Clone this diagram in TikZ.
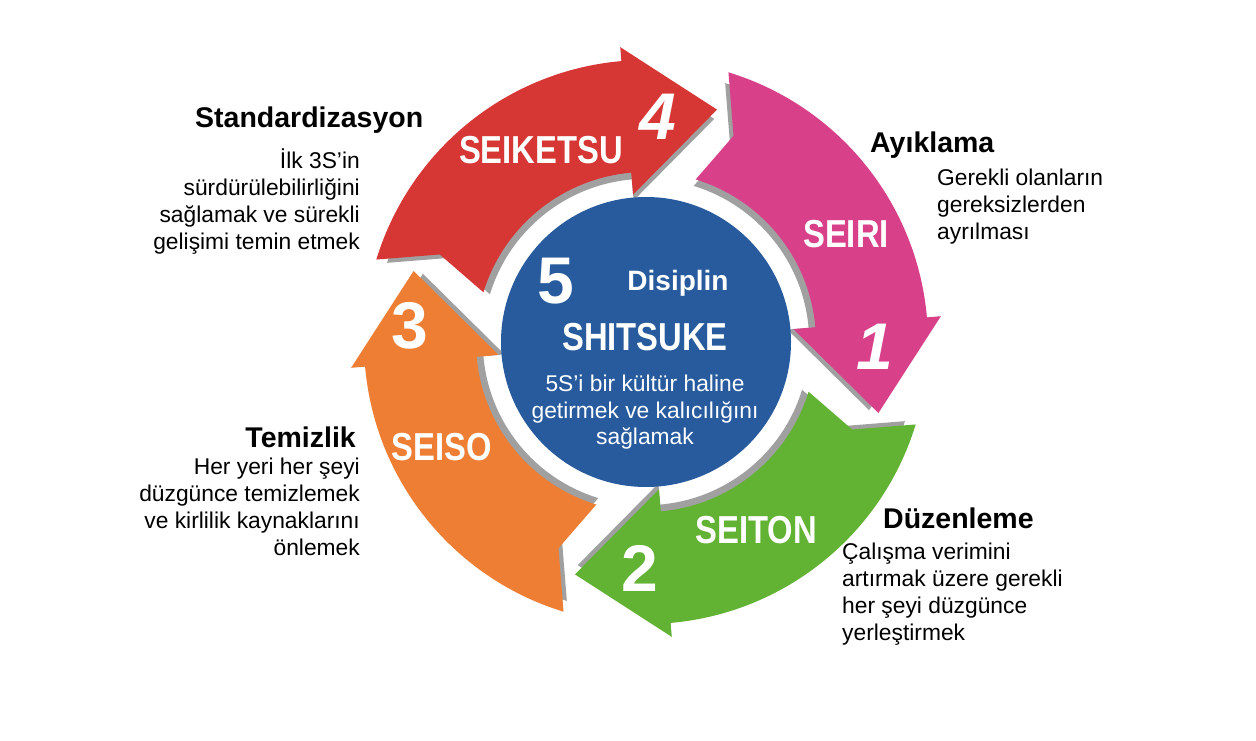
\documentclass[tikz,border=0pt]{standalone}
\usepackage{fontspec}
\setmainfont{Liberation Sans}
\newfontfamily\condf[FakeStretch=0.84]{Liberation Sans}
\usetikzlibrary{calc}
\definecolor{redA}{RGB}{214,54,52}
\definecolor{pinkA}{RGB}{216,64,138}
\definecolor{greenA}{RGB}{98,178,51}
\definecolor{orangeA}{RGB}{238,126,52}
\definecolor{blueA}{RGB}{39,91,158}
\definecolor{bevel}{RGB}{160,160,160}
\tikzset{
  heading/.style={font=\bfseries\fontsize{28.5}{32}\selectfont, inner sep=0pt},
  body/.style={font=\fontsize{22.8}{27}\selectfont, inner sep=0pt},
  slabel/.style={font=\condf\bfseries\fontsize{39}{39}\selectfont, text=white, inner sep=0pt},
  numit/.style={font=\bfseries\itshape\fontsize{66}{66}\selectfont, text=white, inner sep=0pt},
  numup/.style={font=\bfseries\fontsize{66}{66}\selectfont, text=white, inner sep=0pt},
  hubtext/.style={font=\fontsize{22.8}{26.5}\selectfont, text=white, align=center, inner sep=0pt},
}
% #1 tail angle, #2 colour, #3 radius factor
\newcommand\ringarrow[3]{%
  \fill[#2] ($(C)+(#1:{#3*282})$)
    arc[start angle=#1, end angle=#1-68, radius={#3*282}]
    -- ($(C)+(#1-68:{#3*296})$)
    -- ($(C)+(#1-90:{#3*243})$)
    -- ($(C)+(#1-68:{#3*148})$)
    -- ($(C)+(#1-68:{#3*170})$)
    arc[start angle=#1-68, end angle=#1, radius={#3*170}]
    -- ($(C)+(#1-6:{#3*224})$) -- cycle;}
\begin{document}
\begin{tikzpicture}[x=1pt,y=1pt]
\useasboundingbox (0,0) rectangle (1256,740);
\fill[white] (0,0) rectangle (1256,740);
\coordinate (C) at (646,398);
% bevel shadows
\ringarrow{163}{bevel}{0.96}
\ringarrow{73}{bevel}{0.96}
\ringarrow{-17}{bevel}{0.96}
\ringarrow{-107}{bevel}{0.96}
% arrows
\ringarrow{163}{redA}{1}
\ringarrow{73}{pinkA}{1}
\ringarrow{-17}{greenA}{1}
\ringarrow{-107}{orangeA}{1}
% hub
\node[circle, fill=blueA, minimum size=290pt, inner sep=0pt] (hub) at (C) {};
% arrow labels
\node[slabel] (seiketsu) at (541,590) {SEIKETSU};
\node[numit] (n4) at (658,623) {4};
\node[slabel] (seiri) at (846,506) {SEIRI};
\node[numit] (n1) at (875,393) {1};
\node[slabel] (seiton) at (756,210) {SEITON};
\node[numup] (n2) at (640,172) {2};
\node[slabel] (seiso) at (442,293) {SEISO};
\node[numup] (n3) at (410,414) {3};
% hub texts
\node[numup] (n5) at (556,459) {5};
\node[font=\bfseries\fontsize{28}{30}\selectfont, text=white, inner sep=0pt] (disiplin) at (678,457) {Disiplin};
\node[slabel] (shitsuke) at (645,403) {SHITSUKE};
\node[hubtext, anchor=base] (hubbody) at (645,295) {5S’i bir kültür haline\\getirmek ve kalıcılığını\\sağlamak};
% outer texts
\node[heading, anchor=base west] (h4) at (195,612) {Standardizasyon};
\node[body, align=right, anchor=base east] (b4) at (360,490) {İlk 3S’in\\sürdürülebilirliğini\\sağlamak ve sürekli\\gelişimi temin etmek};
\node[heading, anchor=base west] (h1) at (870,587) {Ayıklama};
\node[body, align=left, anchor=base west] (b1) at (937,500) {Gerekli olanların\\gereksizlerden\\ayrılması};
\node[heading, anchor=base west] (h2) at (883,212) {Düzenleme};
\node[body, align=left, anchor=base west] (b2) at (842,100) {Çalışma verimini\\artırmak üzere gerekli\\her şeyi düzgünce\\yerleştirmek};
\node[heading, anchor=base east] (h3) at (356,293) {Temizlik};
\node[body, align=right, anchor=base east] (b3) at (360,185) {Her yeri her şeyi\\düzgünce temizlemek\\ve kirlilik kaynaklarını\\önlemek};
\end{tikzpicture}
\end{document}
